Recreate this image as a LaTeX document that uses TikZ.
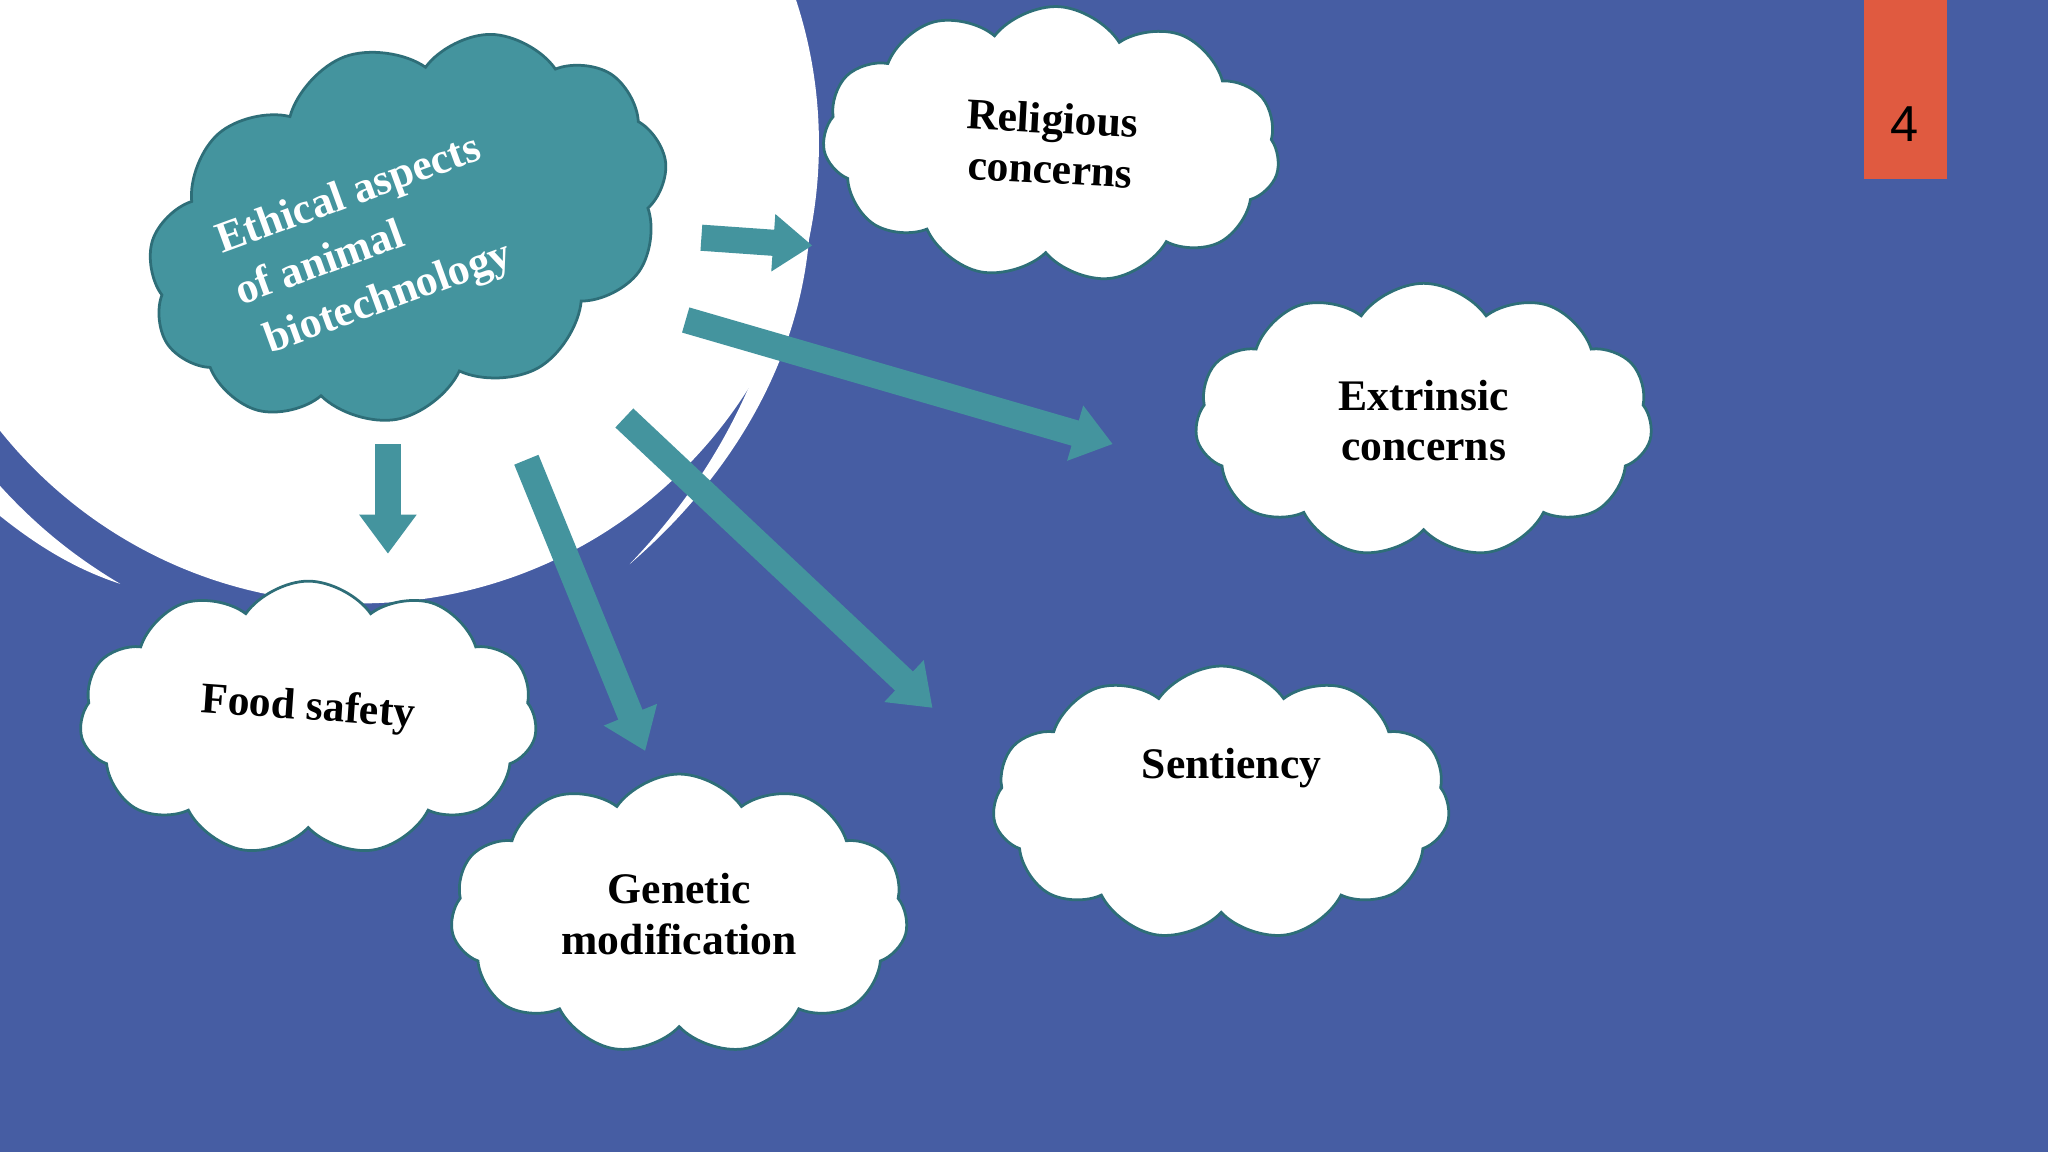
\documentclass[tikz,border=0pt]{standalone}
\usepackage{fontspec}
\setmainfont{Liberation Serif}
\setsansfont{Liberation Sans}
\usetikzlibrary{shapes.symbols,arrows.meta}
\definecolor{bg}{HTML}{465DA3}
\definecolor{teal1}{HTML}{44949E}
\definecolor{tealdk}{HTML}{2E6E78}
\definecolor{redbox}{HTML}{E05A40}
\tikzset{
  cl/.style={cloud, cloud puffs=11, cloud puff arc=110, aspect=1.6, fill=white, draw=tealdk, line width=0.6pt, minimum width=3.5cm, minimum height=2.1cm, align=center, font=\bfseries\fontsize{9.5}{11}\selectfont},
  bar/.style={teal1, line width=0.2cm, -{Triangle[width=0.42cm,length=0.3cm]}}
}
\begin{document}
\begin{tikzpicture}[x=0.01cm,y=-0.01cm]
\fill[bg] (0,0) rectangle (1568,882);
\useasboundingbox (0,0) rectangle (1568,882);
\begin{scope}
\clip (0,0) rectangle (1568,882);
\fill[white] (275,110) circle (352);
\fill[white] (0,372) .. controls (30,405) and (60,428) .. (92,447) .. controls (55,435) and (25,415) .. (0,395) -- cycle;
\fill[white] (612,85) .. controls (640,200) and (600,330) .. (482,432) .. controls (580,330) and (615,210) .. (612,85);
\end{scope}
\fill[redbox] (1427,0) rectangle (1491,137);
\node[font=\sffamily\fontsize{11}{12}\selectfont] (num) at (1458,95) {4};
\node[cl, fill=teal1, minimum width=4.1cm, minimum height=2.8cm, rotate=20] (main) at (312,175) {};
\node[white, font=\bfseries\fontsize{9.5}{12}\selectfont, align=left, rotate=20] (maintext) at (282,190) {Ethical aspects\\of animal\\\ biotechnology};
\node[cl, rotate=-3] (rel) at (805,110) {Religious\\concerns};
\node[cl] (ext) at (1090,322) {Extrinsic\\concerns};
\node[cl] (food) at (236,550) {};
\node[font=\bfseries\fontsize{9.5}{11}\selectfont, rotate=-4] (foodt) at (236,543) {Food safety};
\node[cl] (gen) at (520,700) {Genetic\\modification};
\node[cl] (sen) at (935,615) {};
\node[font=\bfseries\fontsize{9.5}{11}\selectfont] (sent) at (943,588) {Sentiency};
\coordinate (a1) at (537,182); \coordinate (b1) at (622,188);
\coordinate (a2) at (525,245); \coordinate (b2) at (852,340);
\coordinate (a3) at (297,340); \coordinate (b3) at (297,424);
\coordinate (a4) at (403,352); \coordinate (b4) at (494,575);
\coordinate (a5) at (478,320); \coordinate (b5) at (714,542);
\draw[bar] (a1) -- (b1);
\draw[bar] (a2) -- (b2);
\draw[bar] (a3) -- (b3);
\draw[bar] (a4) -- (b4);
\draw[bar] (a5) -- (b5);
\end{tikzpicture}
\end{document}
